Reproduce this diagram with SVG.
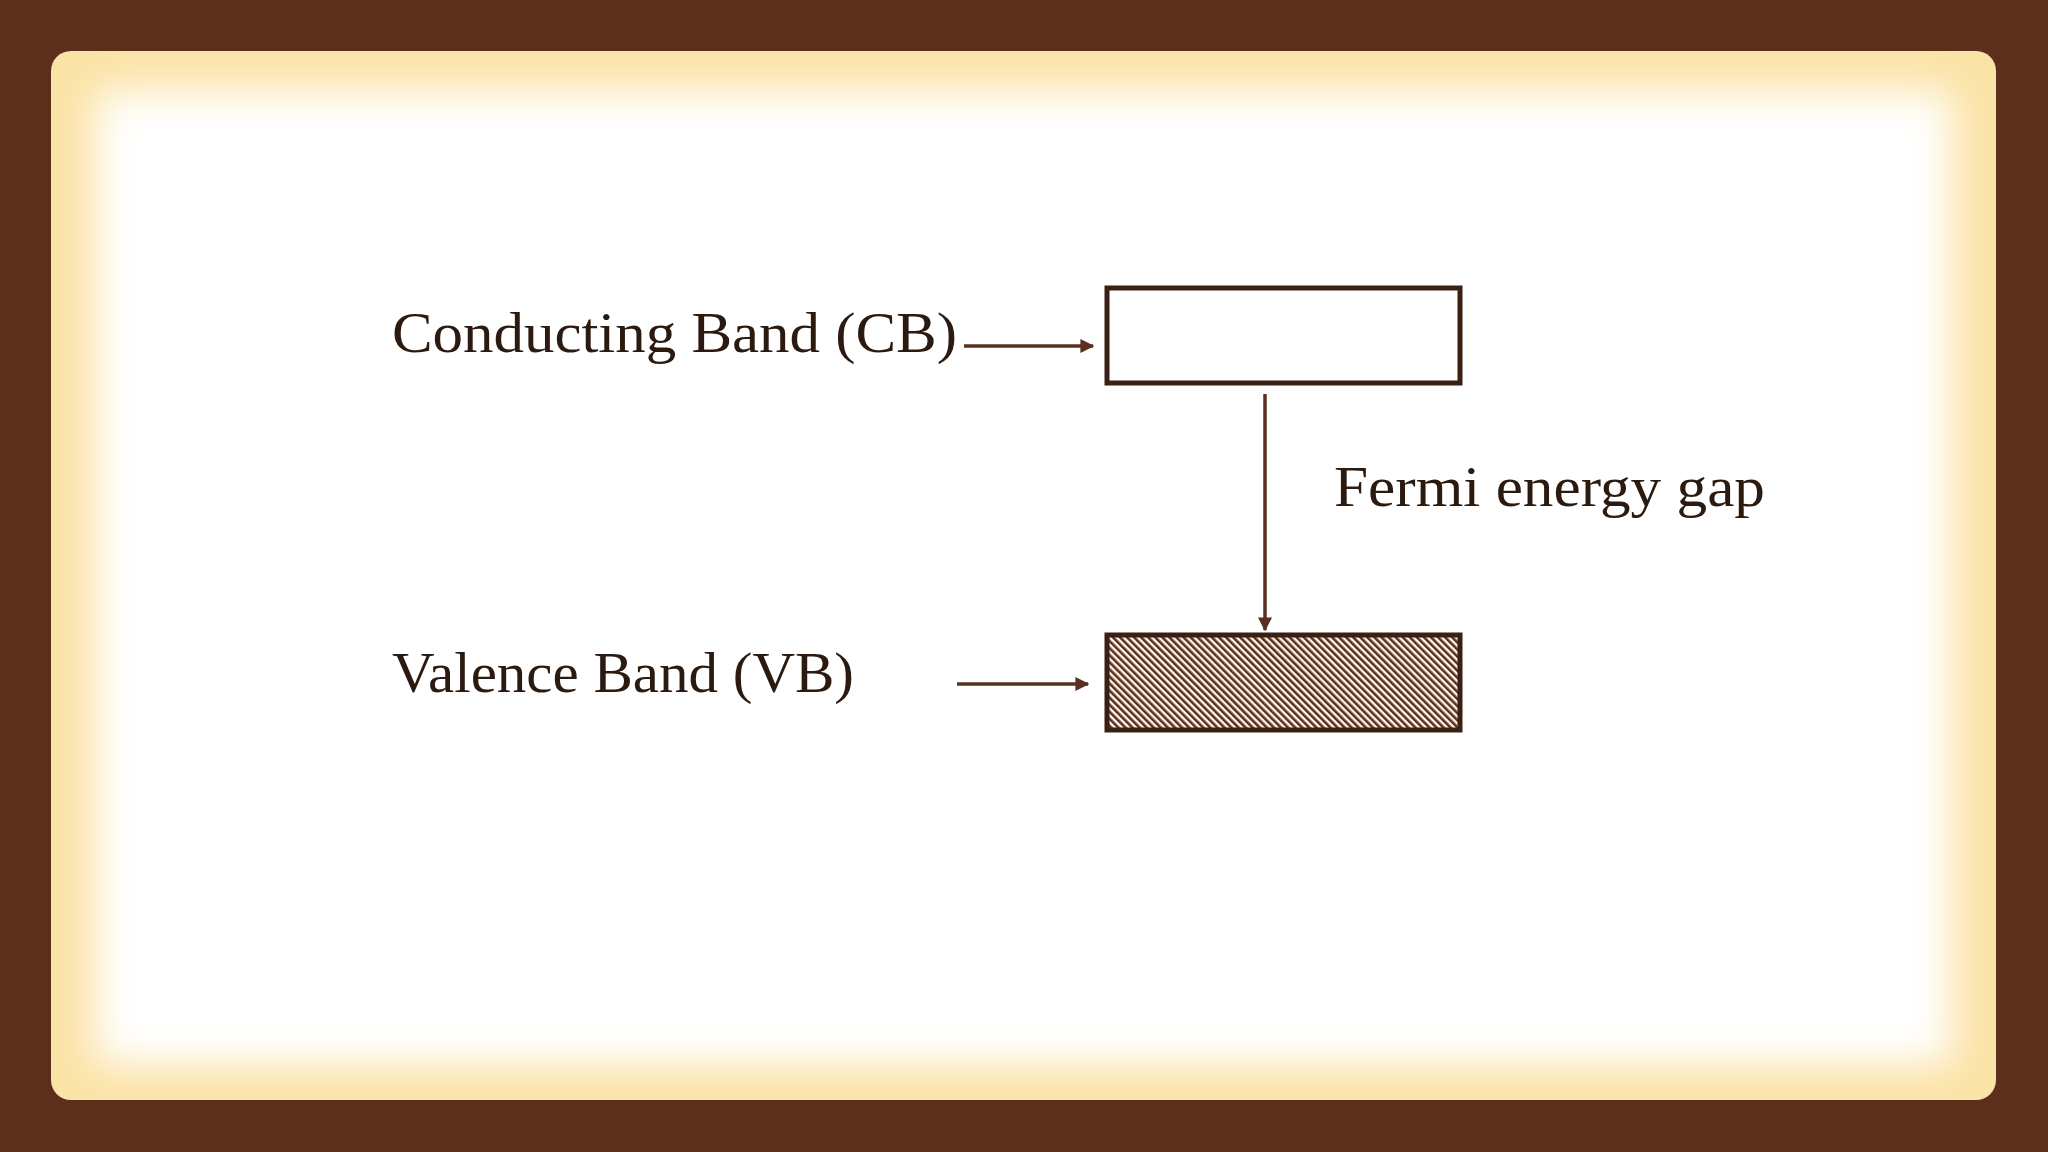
<svg xmlns="http://www.w3.org/2000/svg" width="2048" height="1152" viewBox="0 0 2048 1152">
<defs>
<filter id="blur" x="-10%" y="-10%" width="120%" height="120%"><feGaussianBlur stdDeviation="20"/></filter>
<pattern id="hatch" width="5" height="5" patternUnits="userSpaceOnUse" patternTransform="rotate(-45)">
<rect width="5" height="5" fill="#fff8ee"/><rect width="2.6" height="5" fill="#5a2f1c"/></pattern>
<marker id="ah" viewBox="0 0 10 10" refX="9" refY="5" markerWidth="4" markerHeight="4" orient="auto"><path d="M0,0 L10,5 L0,10 z" fill="#5a3020"/></marker>
<clipPath id="pc"><rect x="51" y="51" width="1945" height="1049" rx="20"/></clipPath>
</defs>
<style>
.t{font-family:"Liberation Serif",serif;font-size:56px;fill:#2b1a10}
.ln{stroke:#5a3020;stroke-width:3.5;fill:none}
.box{stroke:#3a2013;stroke-width:5}
</style>
<rect width="2048" height="1152" fill="#5b2f1b"/>
<rect x="51" y="51" width="1945" height="1049" rx="20" fill="#fbe3a6"/>
<g clip-path="url(#pc)"><rect x="95" y="90" width="1857" height="975" fill="#fff" filter="url(#blur)"/></g>
<g id="cb"><rect class="box" x="1107" y="288" width="353" height="95" fill="#fff"/>
<text class="t" x="392" y="352" textLength="565" lengthAdjust="spacingAndGlyphs">Conducting Band (CB)</text></g>
<g id="vb"><rect class="box" x="1107" y="635" width="353" height="95" fill="url(#hatch)"/>
<text class="t" x="392" y="692" textLength="462" lengthAdjust="spacingAndGlyphs">Valence Band (VB)</text></g>
<g id="gap"><text class="t" x="1334" y="506" textLength="431" lengthAdjust="spacingAndGlyphs">Fermi energy gap</text></g>
<g id="connectors">
<line class="ln" x1="964" y1="346" x2="1093" y2="346" marker-end="url(#ah)"/>
<line class="ln" x1="957" y1="684" x2="1088" y2="684" marker-end="url(#ah)"/>
<line class="ln" x1="1265" y1="394" x2="1265" y2="630" marker-end="url(#ah)"/>
</g>
</svg>
